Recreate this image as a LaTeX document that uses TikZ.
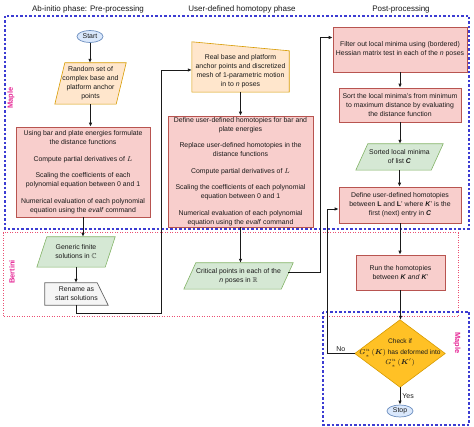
\documentclass[tikz,border=0pt]{standalone}
\usepackage{fontspec}
\setmainfont{Liberation Sans}
\usepackage{amsmath,amssymb,bm}
\usetikzlibrary{arrows.meta,shapes.geometric,calc}
\definecolor{pinkfill}{HTML}{F8CECC}
\definecolor{pinkline}{HTML}{B85450}
\definecolor{orfill}{HTML}{FFE6CC}
\definecolor{orline}{HTML}{D79B00}
\definecolor{grfill}{HTML}{D5E8D4}
\definecolor{grline}{HTML}{82B366}
\definecolor{gyfill}{HTML}{F5F5F5}
\definecolor{gyline}{HTML}{666666}
\definecolor{blfill}{HTML}{DAE8FC}
\definecolor{blline}{HTML}{6C8EBF}
\definecolor{dmfill}{HTML}{FFC125}
\definecolor{frameblue}{RGB}{60,60,210}
\definecolor{framepink}{RGB}{235,80,115}
\definecolor{lblmag}{RGB}{230,40,150}
\definecolor{txtc}{HTML}{1A1A1A}
\pgfdeclarelayer{bg}
\pgfsetlayers{bg,main}
\newcommand{\paraback}[3]{%
  \begin{pgfonlayer}{bg}
  \path[#3] (#1.south west) -- ($(#1.south east)+(-#2,0)$) -- (#1.north east) -- ($(#1.north west)+(#2,0)$) -- cycle;
  \end{pgfonlayer}}
\newcommand{\Gstar}{G^{u}_{\lower0.9pt\hbox{$\scriptstyle *$}}}
\tikzset{
  txt/.style={font=\fontsize{6.9}{9}\selectfont, align=center, text=txtc, inner sep=0pt},
  pinkbox/.style={txt, rectangle, draw=pinkline, fill=pinkfill, line width=0.6pt},
  plainbox/.style={txt, rectangle, draw=none},
  orpoly/.style={draw=orline, fill=orfill, line width=0.6pt},
  grpoly/.style={draw=grline, fill=grfill, line width=0.6pt},
  gypoly/.style={draw=gyline, fill=gyfill, line width=0.7pt},
  dmpoly/.style={draw=orline, fill=dmfill, line width=0.6pt},
  terminal/.style={txt, ellipse, draw=blline, fill=blfill, line width=0.7pt, minimum width=26pt, minimum height=12pt},
  arr/.style={draw=txtc, line width=0.8pt, -{Latex[length=4pt,width=3.5pt]}},
  bluedash/.style={draw=frameblue, line width=1.2pt, dash pattern=on 2.5pt off 2pt},
  pinkdot/.style={draw=framepink, line width=1pt, dash pattern=on 1pt off 1.5pt},
  lbl/.style={font=\fontsize{7.5}{9}\selectfont\bfseries, text=lblmag, inner sep=0pt},
  hdr/.style={font=\fontsize{8}{9.6}\selectfont, text=txtc, inner sep=0pt},
  edgelbl/.style={font=\fontsize{7}{8}\selectfont, text=txtc, inner sep=2pt}
}
\begin{document}
\begin{tikzpicture}[x=1pt,y=-1pt]
\useasboundingbox (0,0) rectangle (474,427);

% frames
\begin{pgfonlayer}{bg}
\draw[bluedash] (5,16) rectangle (469,229);
\draw[pinkdot] (3,233) rectangle (458,317);
\draw[bluedash] (323,312) rectangle (469,425);
\end{pgfonlayer}

% headers and labels
\node[hdr] (h1) at (88,9) {Ab-initio phase: Pre-processing};
\node[hdr] (h2) at (242,9) {User-defined homotopy phase};
\node[hdr] (h3) at (401,9) {Post-processing};
\node[lbl, rotate=90] (lm1) at (11,98) {Maple};
\node[lbl, rotate=90] (lb) at (12,272) {Bertini};
\node[lbl, rotate=-90] (lm2) at (457,343) {Maple};

% column 1
\node[terminal] (start) at (90,36.5) {Start};
\node[plainbox, minimum width=71pt, minimum height=41pt] (rs) at (90.5,83.5)
  {Random set of\\complex base and\\platform anchor\\points};
\paraback{rs}{10}{orpoly}
\node[pinkbox, minimum width=134pt, minimum height=90pt] (p1) at (83,172)
  {Using bar and plate energies formulate\\the distance functions\\[7.5pt]
   Compute partial derivatives of $L$\\[7.5pt]
   Scaling the coefficients of each\\polynomial equation between 0 and 1\\[7.5pt]
   Numerical evaluation of each polynomial\\equation using the \textit{evalf} command};
\node[plainbox, minimum width=78pt, minimum height=30pt] (gf) at (76,252)
  {Generic finite\\solutions in $\mathbb{C}$};
\paraback{gf}{10}{grpoly}
\node[plainbox, minimum width=63pt, minimum height=22pt] (rn) at (76.5,294)
  {Rename as\\start solutions};
\begin{pgfonlayer}{bg}
\path[gypoly] (rn.south west) -- (rn.north west) -- ($(rn.north east)+(-11,0)$) -- (rn.south east) -- cycle;
\end{pgfonlayer}

% column 2
\node[plainbox, minimum width=97pt, minimum height=42pt] (rb) at (240.5,71)
  {Real base and platform\\anchor points and discretized\\mesh of 1-parametric motion\\in to \textit{n} poses};
\begin{pgfonlayer}{bg}
\path[orpoly] (rb.south west) -- ($(rb.north west)+(0,-8)$) -- ($(rb.north east)+(0,1)$) -- (rb.south east) -- cycle;
\end{pgfonlayer}
\node[pinkbox, minimum width=145pt, minimum height=111pt] (p2) at (240.5,171.5)
  {Define user-defined homotopies for bar and\\plate energies\\[7.5pt]
   Replace user-defined homotopies in the\\distance functions\\[7.5pt]
   Compute partial derivatives of $L$\\[7.5pt]
   Scaling the coefficients of each polynomial\\equation between 0 and 1\\[7.5pt]
   Numerical evaluation of each polynomial\\equation using the \textit{evalf} command};
\node[plainbox, minimum width=109pt, minimum height=26pt] (cp) at (238.5,276)
  {Critical points in each of the\\\textit{n} poses in $\mathbb{R}$};
\paraback{cp}{12}{grpoly}

% column 3
\node[pinkbox, minimum width=134pt, minimum height=45pt] (fl) at (400,49.5)
  {Filter out local minima using (bordered)\\Hessian matrix test in each of the \textit{n} poses};
\node[pinkbox, minimum width=122pt, minimum height=34pt] (so) at (400,105)
  {Sort the local minima's from minimum\\to maximum distance by evaluating\\the distance function};
\node[plainbox, minimum width=87pt, minimum height=26pt] (sm) at (399.5,157)
  {Sorted local minima\\of list \textbf{\textit{C}}};
\paraback{sm}{12}{grpoly}
\node[pinkbox, minimum width=122pt, minimum height=36pt] (df) at (400,205)
  {Define user-defined homotopies\\between \textbf{L} and \textbf{L}' where \textbf{\textit{K}}' is the\\first (next) entry in \textbf{\textit{C}}};
\node[pinkbox, minimum width=89pt, minimum height=35pt] (ru) at (400.5,272.5)
  {Run the homotopies\\between \textbf{\textit{K}} \textit{and} \textbf{\textit{K}}'};
\node[plainbox, minimum width=90pt, minimum height=67pt, font=\fontsize{6.6}{10.5}\selectfont] (dm) at (400,353.5)
  {Check if\\$\Gstar\,(\boldsymbol{K})$ has deformed into\\$\Gstar\,(\boldsymbol{K}')$};
\begin{pgfonlayer}{bg}
\path[dmpoly] (dm.north) -- (dm.east) -- (dm.south) -- (dm.west) -- cycle;
\end{pgfonlayer}
\node[terminal] (stop) at (400,411) {Stop};

% connectors
\coordinate (c1) at (161,313);
\coordinate (c2) at (320,272);
\coordinate (c3) at (327,353.5);
\draw[arr] (start.south) -- (start.south |- rs.north);
\draw[arr] (rs.south) -- (rs.south |- p1.north);
\draw[arr] (p1.south) -- (p1.south |- gf.north);
\draw[arr] (gf.south) -- (gf.south |- rn.north);
\draw[arr] (rn.south) |- (c1) |- ($(rb.west)+(0,-1)$);
\draw[arr] (rb.south) -- (rb.south |- p2.north);
\draw[arr] (p2.south) -- (p2.south |- cp.north);
\draw[arr] ($(cp.east)+(-5,-4)$) -- (c2) |- ($(fl.west)+(0,-12)$);
\draw[arr] (fl.south) -- (fl.south |- so.north);
\draw[arr] (so.south) -- (so.south |- sm.north);
\draw[arr] (sm.south) -- (sm.south |- df.north);
\draw[arr] (df.south) -- (df.south |- ru.north);
\draw[arr] (ru.south) -- (ru.south |- dm.north);
\draw[arr] (dm.south) -- node[edgelbl, right] {Yes} (stop.north);
\draw[arr] (dm.west) -- node[edgelbl, above] {No} (c3) |- ($(df.west)+(0,4)$);
\end{tikzpicture}
\end{document}
